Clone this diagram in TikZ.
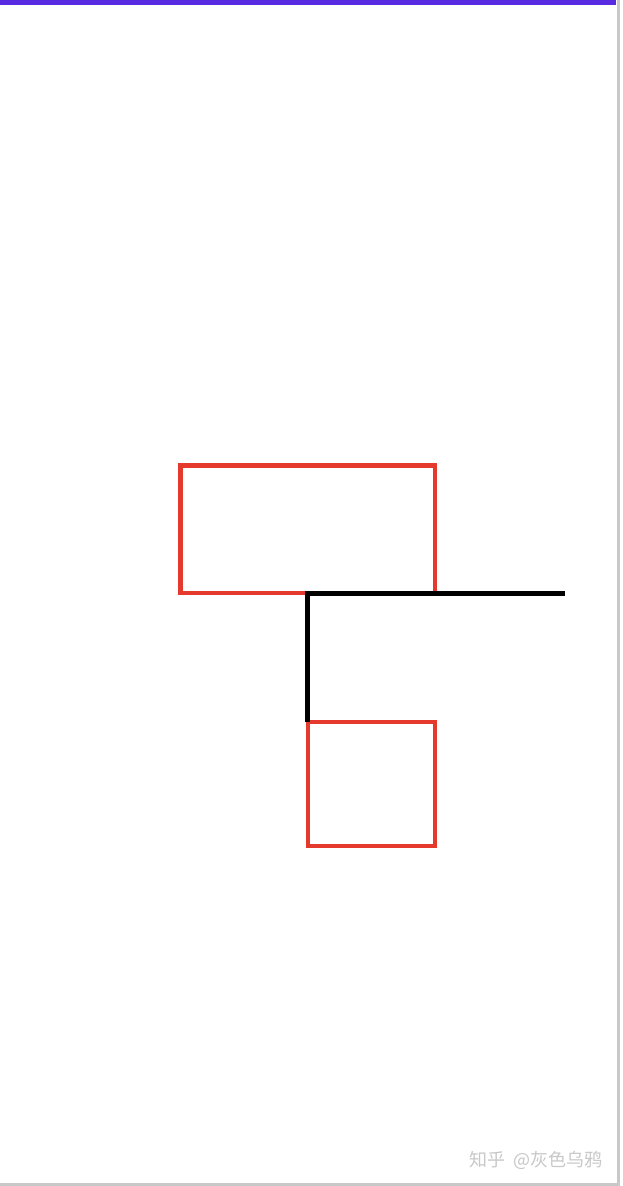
\documentclass[tikz,border=0pt]{standalone}
\usepackage{fontspec}
\newfontfamily\cjk{Noto Sans CJK SC}
\usetikzlibrary{positioning}
\definecolor{boxred}{RGB}{229,57,45}
\definecolor{barpurple}{RGB}{88,42,226}
\definecolor{framegray}{RGB}{200,200,200}
\begin{document}
\begin{tikzpicture}[x=1pt, y=-1pt,
  box/.style={draw=boxred, line width=4.5pt, inner sep=0pt, outer sep=0pt},
  wire/.style={draw=black, line width=5pt}]
  % --- parâmetros ---
  \def\W{622}
  \def\H{1186}
  \useasboundingbox (0,0) rectangle (\W,\H);
  \fill[white] (0,0) rectangle (\W,\H);

  % moldura da tela
  \fill[barpurple] (0,0) rectangle (616,4.5);
  \fill[framegray] (617,0) rectangle (619.5,\H);
  \fill[framegray] (0,1183) rectangle (619.5,\H);

  % caixas
  \node[box, minimum width=254.5pt, minimum height=127.5pt] (big) at (307.75,529.25) {};
  \node[box, minimum width=127pt, minimum height=124pt, anchor=north west] (small)
    at (big.south |- 0,722) {};

  % linhas pretas
  \coordinate (tail) at (big.south -| 565,0);
  \draw[wire] ([xshift=-2.5pt]big.south) -- (tail);
  \draw[wire] (big.south) -- (small.north west);

  % marca d'água
  \node[text=framegray, font=\cjk\fontsize{18}{21}\selectfont, anchor=east] (mark)
    at (606,1160) {知乎\ \ @灰色乌鸦};
\end{tikzpicture}
\end{document}
